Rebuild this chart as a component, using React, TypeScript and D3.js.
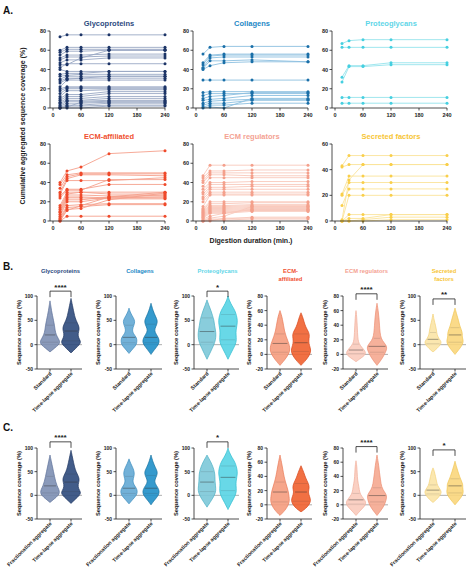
import * as d3 from 'd3';

// ---------- Panel A data (coverage %, at each digestion time) ----------
const timePoints = [15, 30, 60, 120, 240];
const xTicksA = [0, 60, 120, 180, 240];
const yTicks80 = [0, 20, 40, 60, 80];
const yTicks60 = [0, 20, 40, 60];

const glycoLines = [
  [74, 76, 76, 76, 76], [60, 63, 63, 63, 63], [58, 61, 61, 61, 61], [55, 59, 59, 60, 60],
  [52, 55, 55, 56, 56], [50, 53, 53, 54, 54], [47, 50, 50, 52, 52], [45, 45, 52, 60, 60],
  [42, 46, 46, 46, 46], [40, 38, 38, 38, 38], [35, 36, 36, 38, 38], [33, 34, 35, 35, 35],
  [30, 33, 33, 33, 33], [28, 31, 31, 33, 33], [26, 30, 31, 31, 31], [22, 29, 29, 29, 29],
  [20, 22, 22, 22, 22], [18, 21, 21, 21, 21], [15, 20, 20, 20, 20], [12, 18, 18, 19, 19],
  [10, 14, 14, 17, 17], [8, 12, 12, 15, 15], [6, 10, 10, 12, 12], [5, 8, 8, 10, 10],
  [3, 7, 7, 8, 8], [2, 5, 5, 6, 6], [1, 3, 3, 5, 5], [0, 2, 2, 3, 3], [0, 1, 6, 7, 7],
  [0, 0, 0, 2, 2],
];
const collagenLines = [
  [56, 63, 64, 64, 64], [47, 55, 56, 56, 56], [45, 54, 55, 55, 55], [42, 52, 53, 53, 53],
  [41, 49, 49, 50, 48], [40, 44, 47, 48, 48], [29, 29, 29, 29, 29], [16, 17, 17, 17, 17],
  [13, 15, 15, 15, 15], [10, 12, 13, 16, 16], [8, 9, 10, 13, 13], [5, 7, 8, 9, 9],
  [3, 5, 5, 8, 8], [1, 3, 3, 5, 5], [0, 1, 0, 10, 10],
];
const proteoLines = [
  [67, 70, 71, 71, 71], [63, 63, 63, 63, 63], [32, 44, 44, 47, 47], [27, 43, 43, 45, 45],
  [11, 11, 11, 11, 11], [5, 5, 5, 5, 5],
];
const ecmAffLines = [
  [40, 52, 56, 70, 73], [38, 48, 50, 50, 50], [34, 46, 49, 49, 49], [30, 44, 48, 48, 47],
  [28, 42, 42, 42, 45], [26, 33, 33, 38, 38], [24, 32, 32, 43, 43], [16, 30, 30, 30, 30],
  [14, 28, 30, 28, 28], [12, 27, 27, 26, 26], [10, 25, 25, 24, 25], [9, 24, 24, 23, 23],
  [7, 22, 22, 25, 27], [5, 20, 20, 24, 24], [3, 16, 17, 18, 18], [2, 14, 15, 17, 17],
  [1, 12, 13, 22, 29], [0, 11, 16, 25, 30], [0, 5, 5, 5, 5],
];
const ecmRegLines = [
  [47, 58, 58, 58, 58], [45, 52, 52, 53, 53], [42, 50, 50, 50, 50], [40, 48, 48, 47, 47],
  [36, 45, 45, 45, 45], [33, 40, 40, 41, 41], [30, 38, 38, 38, 38], [28, 35, 35, 36, 36],
  [25, 33, 33, 33, 33], [23, 30, 30, 30, 30], [20, 28, 28, 28, 28], [15, 27, 27, 27, 27],
  [13, 20, 20, 20, 20], [12, 18, 18, 19, 19], [11, 16, 16, 17, 17], [10, 15, 15, 16, 16],
  [9, 14, 14, 15, 15], [8, 13, 13, 14, 14], [7, 12, 12, 13, 13], [6, 11, 11, 12, 12],
  [5, 10, 10, 11, 11], [4, 9, 9, 11, 11], [3, 8, 8, 10, 10], [2, 5, 8, 12, 12],
  [1, 3, 5, 15, 15], [0, 2, 2, 4, 4], [0, 1, 1, 2, 2], [0, 0, 3, 3, 3],
];
const secretedLines = [
  [43, 51, 51, 51, 51], [42, 44, 44, 44, 44], [21, 35, 35, 35, 35], [20, 30, 30, 30, 30],
  [12, 25, 25, 25, 25], [0, 20, 20, 20, 20], [1, 32, 44, 44, 44], [0, 5, 5, 5, 5],
  [0, 2, 2, 5, 5], [0, 0, 1, 3, 3], [0, 0, 0, 1, 1],
];

// ---------- Panels B / C: violin outlines ([value, relative width]) ----------
const stdLabels = ['Standard', 'Time-lapse aggregate'];
const fracLabels = ['Fractionation aggregate', 'Time-lapse aggregate'];
const yTicks100 = [-50, 0, 50, 100];
const yTicks80v = [-20, 0, 20, 40, 60, 80];

const glyStdB = [[-15, 0], [-8, .4], [0, .9], [6, 1], [12, .85], [20, .62], [30, .5], [40, .45], [50, .35], [60, .25], [70, .15], [80, .08], [90, 0]];
const glyTlB = [[-17, 0], [-8, .45], [0, .85], [6, 1], [14, .75], [22, .68], [32, .85], [40, .75], [50, .5], [60, .35], [70, .25], [80, .15], [95, 0]];
const colStdB = [[-18, 0], [-8, .4], [0, .75], [8, .8], [15, .75], [22, .45], [30, .3], [40, .5], [48, .6], [55, .45], [65, .15], [75, 0]];
const colTlB = [[-20, 0], [-10, .35], [0, .75], [8, .85], [16, .7], [25, .4], [32, .35], [42, .6], [50, .65], [58, .45], [70, .2], [85, 0]];
const proStdB = [[-30, 0], [-15, .35], [0, .7], [10, .85], [20, .9], [30, .85], [40, .75], [50, .7], [60, .55], [70, .4], [80, .2], [92, 0]];
const proTlB = [[-30, 0], [-15, .35], [0, .75], [10, .85], [20, .8], [30, .8], [40, .9], [50, .95], [60, .85], [70, .7], [80, .4], [90, .15], [100, 0]];
const affStdB = [[-15, 0], [-8, .45], [0, .85], [6, 1], [12, .95], [18, .8], [25, .6], [32, .45], [40, .35], [48, .25], [55, .12], [60, 0]];
const affTlB = [[-15, 0], [-8, .5], [0, .9], [6, 1], [12, .85], [18, .75], [25, .85], [30, .8], [38, .45], [45, .3], [52, .15], [57, 0]];
const regStdB = [[-10, 0], [-5, .5], [0, 1], [5, .9], [10, .55], [15, .3], [20, .2], [30, .15], [40, .12], [50, .08], [60, 0]];
const regTlB = [[-15, 0], [-7, .45], [0, .75], [6, .95], [11, 1], [16, .7], [22, .4], [30, .3], [40, .25], [50, .2], [60, .12], [70, 0]];
const secStdB = [[-15, 0], [-8, .4], [0, .75], [6, .85], [12, .6], [20, .4], [30, .35], [40, .25], [50, .12], [63, 0]];
const secTlB = [[-20, 0], [-10, .4], [0, .75], [8, .85], [16, .7], [22, .75], [30, .65], [40, .45], [50, .35], [60, .2], [75, 0]];

const glyFracC = [[-15, 0], [-8, .4], [0, .85], [6, .95], [12, .9], [20, .7], [30, .55], [40, .45], [50, .35], [60, .25], [70, .15], [85, 0]];
const colFracC = [[-18, 0], [-8, .4], [0, .75], [8, .85], [15, .75], [22, .5], [30, .35], [40, .5], [48, .55], [58, .4], [68, .15], [77, 0]];
const proFracC = [[-25, 0], [-12, .4], [0, .75], [10, .9], [20, .85], [30, .8], [40, .8], [50, .75], [60, .6], [70, .4], [85, 0]];
const affFracC = [[-15, 0], [-8, .5], [0, .85], [6, .95], [12, .9], [18, .85], [25, .7], [32, .55], [40, .4], [50, .28], [60, .15], [70, 0]];
const affTlC = [[-10, 0], [-5, .5], [0, .8], [6, 1], [12, .85], [18, .7], [24, .85], [30, .75], [38, .45], [45, .3], [55, 0]];
const regFracC = [[-15, 0], [-7, .5], [0, 1], [6, .95], [12, .55], [18, .35], [25, .3], [35, .15], [45, .12], [55, .08], [62, 0]];
const regTlC = [[-15, 0], [-7, .45], [0, .75], [6, .9], [13, 1], [18, .75], [25, .45], [35, .35], [45, .25], [55, .18], [70, 0]];
const secFracC = [[-15, 0], [-8, .4], [0, .7], [6, .85], [12, .75], [20, .45], [30, .35], [40, .25], [50, .15], [58, 0]];
const secTlC = [[-20, 0], [-10, .4], [0, .75], [8, .85], [16, .75], [22, .8], [30, .65], [40, .45], [50, .3], [60, .15], [72, 0]];

// medians [first, second] and quartiles
const mediansB = [[20, 28], [15, 15], [27, 38], [15, 16], [6, 11], [11, 20]];
const mediansC = [[20, 28], [15, 15], [28, 38], [18, 18], [7, 13], [11, 20]];
const quartB = [[[5, 40], [8, 45]], [[4, 40], [4, 42]], [[5, 55], [10, 62]], [[3, 28], [4, 28]], [[1, 14], [3, 22]], [[2, 25], [5, 35]]];
const quartC = [[[5, 40], [8, 45]], [[4, 40], [4, 42]], [[8, 50], [10, 62]], [[4, 32], [5, 30]], [[1, 16], [4, 24]], [[3, 22], [5, 35]]];
const starsB = ['****', '', '*', '', '****', '**'];
const starsC = ['****', '', '*', '', '****', '*'];

const FONT = '"Liberation Sans", Arial, sans-serif';

const groups = [
  { title: ['Glycoproteins'], tc: '#2c4a80', dot: '#1d3567', line: '#9aa8c4', f1: '#7d8fb3', f2: '#2d4a7c', s1: '#5a6f98', s2: '#1e3560' },
  { title: ['Collagens'], tc: '#2389c6', dot: '#1a6fa8', line: '#8cc0e0', f1: '#63a9d4', f2: '#1f8fc8', s1: '#3b8cbf', s2: '#13709f' },
  { title: ['Proteoglycans'], tc: '#5fd6e8', dot: '#45cfe0', line: '#95e3ec', f1: '#7cc8d8', f2: '#58d4e4', s1: '#4cb0c4', s2: '#2fbdd0' },
  { title: ['ECM-', 'affiliated'], tc: '#f05030', dot: '#ef4a2b', line: '#f5a08c', f1: '#f59c7e', f2: '#f0602f', s1: '#ea7a58', s2: '#d8461a' },
  { title: ['ECM regulators'], tc: '#f4a292', dot: '#f4a08c', line: '#f8c8bb', f1: '#f9cbbd', f2: '#f5a990', s1: '#f0ae9a', s2: '#ec8e72' },
  { title: ['Secreted', 'factors'], tc: '#f7c534', dot: '#f9cf4a', line: '#fbe39a', f1: '#fbe4a6', f2: '#f9d67c', s1: '#f3d27a', s2: '#efc450' },
];

const lineData = [glycoLines, collagenLines, proteoLines, ecmAffLines, ecmRegLines, secretedLines];
const violinB = [[glyStdB, glyTlB], [colStdB, colTlB], [proStdB, proTlB], [affStdB, affTlB], [regStdB, regTlB], [secStdB, secTlB]];
const violinC = [[glyFracC, glyTlB], [colFracC, colTlB], [proFracC, proTlB], [affFracC, affTlC], [regFracC, regTlC], [secFracC, secTlC]];

const joinTitle = (t: string[]) => t.reduce((a, b) => (a.endsWith('-') ? a + b : a + ' ' + b));

const LinePanel = ({ i }: { i: number }) => {
  const g = groups[i];
  const col = i % 3;
  const row = Math.floor(i / 3);
  const ax = [50, 193, 332][col];
  const top = row === 0 ? 31 : 144;
  const bottom = row === 0 ? 108 : 221;
  const yMax = i === 5 ? 60 : 80;
  const x = d3.scaleLinear().domain([0, 240]).range([ax + 3, ax + 115]);
  const y = d3.scaleLinear().domain([0, yMax]).range([bottom, top]);
  const line = d3.line<number>().x((_, k) => x(timePoints[k])).y(d => y(d));
  const ticks = i === 5 ? yTicks60 : yTicks80;
  return (
    <g>
      <text x={(x(0) + x(240)) / 2} y={top - 5} textAnchor="middle" fontSize={7.5} fontWeight="bold" fill={g.tc}>{joinTitle(g.title)}</text>
      {lineData[i].map((d, k) => (
        <path key={k} d={line(d) || ''} fill="none" stroke={g.line} strokeWidth={0.9} />
      ))}
      {lineData[i].map((d, k) => d.map((v, j) => (
        <circle key={k + '-' + j} cx={x(timePoints[j])} cy={y(v)} r={1.5} fill={g.dot} />
      )))}
      <line x1={ax} x2={ax} y1={top} y2={bottom} stroke="#222" strokeWidth={0.8} />
      <line x1={ax} x2={x(240)} y1={bottom} y2={bottom} stroke="#222" strokeWidth={0.8} />
      {ticks.map(t => (
        <g key={t}>
          <line x1={ax - 2.5} x2={ax} y1={y(t)} y2={y(t)} stroke="#222" strokeWidth={0.8} />
          <text x={ax - 4} y={y(t) + 2} textAnchor="end" fontSize={5.5} fontWeight="bold" fill="#222">{t}</text>
        </g>
      ))}
      {xTicksA.map(t => (
        <g key={t}>
          <line x1={x(t)} x2={x(t)} y1={bottom} y2={bottom + 2.5} stroke="#222" strokeWidth={0.8} />
          <text x={x(t)} y={bottom + 8.5} textAnchor="middle" fontSize={5.5} fontWeight="bold" fill="#222">{t}</text>
        </g>
      ))}
    </g>
  );
};

const centers = [[50, 71], [129, 151], [207, 228], [280, 301], [356, 377], [433, 455]];

const ViolinPanel = ({ i, panel }: { i: number; panel: 'B' | 'C' }) => {
  const g = groups[i];
  const isC = panel === 'C';
  const top = isC ? 448 : 296;
  const bottom = isC ? 519 : 369;
  const small = i === 3 || i === 4;
  const dom = small ? [-20, 80] : [-50, 100];
  const ticks = small ? yTicks80v : yTicks100;
  const y = d3.scaleLinear().domain(dom).range([bottom, top]);
  const [c1, c2] = centers[i];
  const ax = c1 - 13;
  const right = c2 + 11;
  const labels = isC ? fracLabels : stdLabels;
  const profiles = (isC ? violinC : violinB)[i];
  const meds = (isC ? mediansC : mediansB)[i];
  const quarts = (isC ? quartC : quartB)[i];
  const stars = (isC ? starsC : starsB)[i];
  const hw = 10;
  const starVal = small ? (isC ? 82 : 83) : (i === 5 ? (isC ? 96 : 94) : (isC ? 113 : 110));
  const midY = (top + bottom) / 2;
  return (
    <g>
      {!isC && g.title.map((t, k) => (
        <text key={k} x={(c1 + c2) / 2} y={273 + k * 8} textAnchor="middle" fontSize={5.8} fontWeight="bold" fill={g.tc}>{t}</text>
      ))}
      <line x1={ax} x2={right} y1={y(0)} y2={y(0)} stroke="#9a9a9a" strokeWidth={0.8} />
      {profiles.map((p, k) => {
        const cx = k === 0 ? c1 : c2;
        const area = d3.area<number[]>()
          .y(d => y(d[0]))
          .x0(d => cx - d[1] * hw)
          .x1(d => cx + d[1] * hw)
          .curve(d3.curveBasis);
        const wAt = d3.scaleLinear().domain(p.map(d => d[0])).range(p.map(d => d[1])).clamp(true);
        const seg = (v: number, key: string, op: number) => (
          <line key={key} x1={cx - wAt(v) * hw * 0.85} x2={cx + wAt(v) * hw * 0.85} y1={y(v)} y2={y(v)} stroke="#333" strokeOpacity={op} strokeWidth={0.7} />
        );
        return (
          <g key={k}>
            <path d={area(p) || ''} fill={k === 0 ? g.f1 : g.f2} stroke={k === 0 ? g.s1 : g.s2} strokeWidth={0.7} fillOpacity={0.9} />
            {seg(meds[k], 'm', 0.65)}
            {seg(quarts[k][0], 'q1', 0.2)}
            {seg(quarts[k][1], 'q3', 0.2)}
          </g>
        );
      })}
      <line x1={ax} x2={ax} y1={top} y2={bottom} stroke="#222" strokeWidth={0.8} />
      <line x1={ax} x2={right} y1={bottom} y2={bottom} stroke="#222" strokeWidth={0.8} />
      {ticks.map(t => (
        <g key={t}>
          <line x1={ax - 2.5} x2={ax} y1={y(t)} y2={y(t)} stroke="#222" strokeWidth={0.8} />
          <text x={ax - 4} y={y(t) + 2} textAnchor="end" fontSize={5} fontWeight="bold" fill="#222">{t}</text>
        </g>
      ))}
      {[c1, c2].map((cx, k) => (
        <g key={k}>
          <line x1={cx} x2={cx} y1={bottom} y2={bottom + 2.5} stroke="#222" strokeWidth={0.8} />
          <text transform={`translate(${cx + 2},${bottom + 5}) rotate(-45)`} textAnchor="end" fontSize={5.3} fontWeight="bold" fill="#222">{labels[k]}</text>
        </g>
      ))}
      <text transform={`translate(${ax - 16},${midY}) rotate(-90)`} textAnchor="middle" fontSize={5.8} fontWeight="bold" fill="#222">Sequence coverage (%)</text>
      {stars && (
        <g>
          <path d={`M${c1},${y(starVal) + 6}V${y(starVal)}H${c2}V${y(starVal) + 6}`} fill="none" stroke="#222" strokeWidth={0.8} />
          <text x={(c1 + c2) / 2} y={y(starVal) - 1.5} textAnchor="middle" fontSize={8} fontWeight="bold" fill="#222">{stars}</text>
        </g>
      )}
    </g>
  );
};

export default function App() {
  const idx = [0, 1, 2, 3, 4, 5];
  return (
    <svg width={474} height={575} style={{ position: 'absolute', left: 0, top: 0, background: '#fff' }} fontFamily={FONT}>
      <rect width={474} height={575} fill="#fff" />
      <text x={3} y={14} fontSize={10} fontWeight="bold" fill="#111">A.</text>
      <text x={3} y={270} fontSize={10} fontWeight="bold" fill="#111">B.</text>
      <text x={3} y={431} fontSize={10} fontWeight="bold" fill="#111">C.</text>
      <text transform="translate(25,126) rotate(-90)" textAnchor="middle" fontSize={7} fontWeight="bold" fill="#222">Cumulative aggregated sequence coverage (%)</text>
      <text x={251} y={243} textAnchor="middle" fontSize={7} fontWeight="bold" fill="#222">Digestion duration (min.)</text>
      {idx.map(i => <LinePanel key={'a' + i} i={i} />)}
      {idx.map(i => <ViolinPanel key={'b' + i} i={i} panel="B" />)}
      {idx.map(i => <ViolinPanel key={'c' + i} i={i} panel="C" />)}
    </svg>
  );
}
